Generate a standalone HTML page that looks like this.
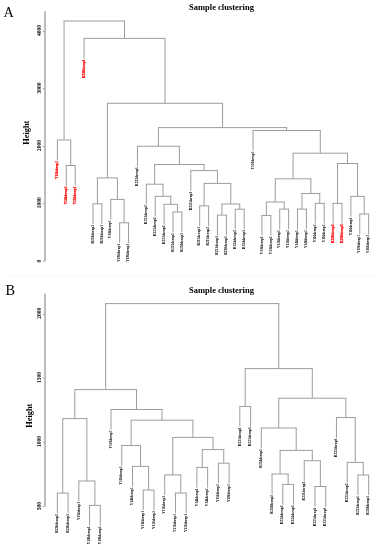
<!DOCTYPE html>
<html><head><meta charset="utf-8"><style>
html,body{margin:0;padding:0;background:#fff;}
body{width:376px;height:550px;overflow:hidden;position:relative;}
svg{position:absolute;left:0;top:0;will-change:transform;}
text{font-family:"Liberation Serif",serif;}
.t{font-weight:bold;}
</style></head><body>
<svg width="376" height="550" viewBox="0 0 376 550">
<rect x="8" y="275.3" width="368" height="1.4" fill="#fafafa"/>
<text x="3.6" y="16.6" font-size="14.3" fill="#000">A</text>
<text x="5.5" y="295" font-size="14.3" fill="#000">B</text>
<text class="t" x="189" y="10.1" font-size="8.5" fill="#000">Sample clustering</text>
<text class="t" x="189" y="292.9" font-size="8.5" fill="#000">Sample clustering</text>
<text class="t" transform="translate(29.4 132.7) rotate(-90)" text-anchor="middle" font-size="8.4" fill="#000">Height</text>
<text class="t" transform="translate(32.2 415.7) rotate(-90)" text-anchor="middle" font-size="8.4" fill="#000">Height</text>
<path d="M65.79 165.50H75.69M66.29 165.50V185.70M75.19 165.50V185.70M56.90 140.00H71.24M57.40 140.00V160.20M70.74 140.00V165.50M92.47 203.80H102.37M92.97 203.80V224.00M101.87 203.80V224.00M119.15 222.80H129.04M119.65 222.80V243.00M128.54 222.80V243.00M110.26 199.40H124.60M110.76 199.40V219.60M124.10 199.40V222.80M96.92 177.90H117.93M97.42 177.90V203.80M117.43 177.90V199.40M172.51 212.00H182.40M173.01 212.00V232.20M181.90 212.00V232.20M163.62 204.30H177.96M164.12 204.30V224.50M177.46 204.30V212.00M154.72 196.30H171.29M155.22 196.30V216.50M170.79 196.30V204.30M145.83 184.20H163.50M146.33 184.20V204.40M163.00 184.20V196.30M199.19 205.90H209.08M199.69 205.90V226.10M208.58 205.90V226.10M216.97 215.10H226.87M217.47 215.10V235.30M226.37 215.10V235.30M234.76 209.20H244.65M235.26 209.20V229.40M244.15 209.20V229.40M221.42 204.00H240.21M221.92 204.00V215.10M239.71 204.00V209.20M203.63 183.40H231.31M204.13 183.40V205.90M230.81 183.40V204.00M190.30 170.60H217.97M190.80 170.60V190.80M217.47 170.60V183.40M154.17 164.50H204.63M154.67 164.50V184.20M204.13 164.50V170.60M136.94 146.25H179.90M137.44 146.25V166.45M179.40 146.25V164.50M261.44 215.40H271.33M261.94 215.40V235.60M270.83 215.40V235.60M279.23 209.10H289.12M279.73 209.10V229.30M288.62 209.10V229.30M265.89 202.00H284.67M266.39 202.00V215.40M284.17 202.00V209.10M297.01 209.10H306.90M297.51 209.10V229.30M306.40 209.10V229.30M314.80 203.40H324.69M315.30 203.40V223.60M324.19 203.40V223.60M301.46 193.50H320.24M301.96 193.50V209.10M319.74 193.50V203.40M274.78 178.80H311.35M275.28 178.80V202.00M310.85 178.80V193.50M332.58 203.40H342.48M333.08 203.40V223.60M341.98 203.40V223.60M359.26 214.00H369.15M359.76 214.00V234.20M368.65 214.00V234.20M350.37 196.40H364.71M350.87 196.40V216.60M364.21 196.40V214.00M337.03 163.50H358.04M337.53 163.50V203.40M357.54 163.50V196.40M292.56 153.20H348.03M293.06 153.20V178.80M347.53 153.20V163.50M252.55 130.50H320.80M253.05 130.50V150.70M320.30 130.50V153.20M157.92 127.60H287.17M158.42 127.60V146.25M286.67 127.60V130.50M106.92 103.30H223.05M107.42 103.30V177.90M222.55 103.30V127.60M83.58 38.40H165.48M84.08 38.40V58.60M164.98 38.40V103.30M63.57 21.00H125.03M64.07 21.00V140.00M124.53 21.00V38.40" stroke="#9d9d9d" stroke-width="1" fill="none"/>
<text x="0" y="0" transform="translate(57.10 161.10) rotate(-90)" text-anchor="end" dominant-baseline="central" font-weight="bold" textLength="17.8" lengthAdjust="spacingAndGlyphs" fill="#ff0000" stroke="#ff0000" stroke-width="0.18" font-size="3.8">Y156dcrop2</text>
<text x="0" y="0" transform="translate(65.99 186.60) rotate(-90)" text-anchor="end" dominant-baseline="central" font-weight="bold" textLength="17.8" lengthAdjust="spacingAndGlyphs" fill="#ff0000" stroke="#ff0000" stroke-width="0.18" font-size="3.8">Y146dcrop3</text>
<text x="0" y="0" transform="translate(74.89 186.60) rotate(-90)" text-anchor="end" dominant-baseline="central" font-weight="bold" textLength="17.8" lengthAdjust="spacingAndGlyphs" fill="#ff0000" stroke="#ff0000" stroke-width="0.18" font-size="3.8">Y156dcrop1</text>
<text x="0" y="0" transform="translate(83.78 59.50) rotate(-90)" text-anchor="end" dominant-baseline="central" font-weight="bold" textLength="18.6" lengthAdjust="spacingAndGlyphs" fill="#ff0000" stroke="#ff0000" stroke-width="0.18" font-size="3.8">R230dcrop1</text>
<text x="0" y="0" transform="translate(92.67 224.90) rotate(-90)" text-anchor="end" dominant-baseline="central" font-weight="bold" textLength="18.6" lengthAdjust="spacingAndGlyphs" fill="#000" font-size="3.8">R226dcrop2</text>
<text x="0" y="0" transform="translate(101.57 224.90) rotate(-90)" text-anchor="end" dominant-baseline="central" font-weight="bold" textLength="18.6" lengthAdjust="spacingAndGlyphs" fill="#000" font-size="3.8">R226dcrop3</text>
<text x="0" y="0" transform="translate(110.46 220.50) rotate(-90)" text-anchor="end" dominant-baseline="central" font-weight="bold" textLength="17.8" lengthAdjust="spacingAndGlyphs" fill="#000" font-size="3.8">Y156dcrop3</text>
<text x="0" y="0" transform="translate(119.35 243.90) rotate(-90)" text-anchor="end" dominant-baseline="central" font-weight="bold" textLength="17.8" lengthAdjust="spacingAndGlyphs" fill="#000" font-size="3.8">Y106dcrop1</text>
<text x="0" y="0" transform="translate(128.24 243.90) rotate(-90)" text-anchor="end" dominant-baseline="central" font-weight="bold" textLength="17.8" lengthAdjust="spacingAndGlyphs" fill="#000" font-size="3.8">Y106dcrop2</text>
<text x="0" y="0" transform="translate(137.14 167.35) rotate(-90)" text-anchor="end" dominant-baseline="central" font-weight="bold" textLength="18.6" lengthAdjust="spacingAndGlyphs" fill="#000" font-size="3.8">R222dcrop3</text>
<text x="0" y="0" transform="translate(146.03 205.30) rotate(-90)" text-anchor="end" dominant-baseline="central" font-weight="bold" textLength="18.6" lengthAdjust="spacingAndGlyphs" fill="#000" font-size="3.8">R221dcrop2</text>
<text x="0" y="0" transform="translate(154.92 217.40) rotate(-90)" text-anchor="end" dominant-baseline="central" font-weight="bold" textLength="18.6" lengthAdjust="spacingAndGlyphs" fill="#000" font-size="3.8">R225dcrop2</text>
<text x="0" y="0" transform="translate(163.82 225.40) rotate(-90)" text-anchor="end" dominant-baseline="central" font-weight="bold" textLength="18.6" lengthAdjust="spacingAndGlyphs" fill="#000" font-size="3.8">R222dcrop2</text>
<text x="0" y="0" transform="translate(172.71 233.10) rotate(-90)" text-anchor="end" dominant-baseline="central" font-weight="bold" textLength="18.6" lengthAdjust="spacingAndGlyphs" fill="#000" font-size="3.8">R221dcrop1</text>
<text x="0" y="0" transform="translate(181.60 233.10) rotate(-90)" text-anchor="end" dominant-baseline="central" font-weight="bold" textLength="18.6" lengthAdjust="spacingAndGlyphs" fill="#000" font-size="3.8">R220dcrop3</text>
<text x="0" y="0" transform="translate(190.50 191.70) rotate(-90)" text-anchor="end" dominant-baseline="central" font-weight="bold" textLength="18.6" lengthAdjust="spacingAndGlyphs" fill="#000" font-size="3.8">R222dcrop1</text>
<text x="0" y="0" transform="translate(199.39 227.00) rotate(-90)" text-anchor="end" dominant-baseline="central" font-weight="bold" textLength="18.6" lengthAdjust="spacingAndGlyphs" fill="#000" font-size="3.8">R215dcrop1</text>
<text x="0" y="0" transform="translate(208.28 227.00) rotate(-90)" text-anchor="end" dominant-baseline="central" font-weight="bold" textLength="18.6" lengthAdjust="spacingAndGlyphs" fill="#000" font-size="3.8">R215dcrop2</text>
<text x="0" y="0" transform="translate(217.17 236.20) rotate(-90)" text-anchor="end" dominant-baseline="central" font-weight="bold" textLength="18.6" lengthAdjust="spacingAndGlyphs" fill="#000" font-size="3.8">R221dcrop3</text>
<text x="0" y="0" transform="translate(226.07 236.20) rotate(-90)" text-anchor="end" dominant-baseline="central" font-weight="bold" textLength="18.6" lengthAdjust="spacingAndGlyphs" fill="#000" font-size="3.8">R220dcrop1</text>
<text x="0" y="0" transform="translate(234.96 230.30) rotate(-90)" text-anchor="end" dominant-baseline="central" font-weight="bold" textLength="18.6" lengthAdjust="spacingAndGlyphs" fill="#000" font-size="3.8">R224dcrop2</text>
<text x="0" y="0" transform="translate(243.85 230.30) rotate(-90)" text-anchor="end" dominant-baseline="central" font-weight="bold" textLength="18.6" lengthAdjust="spacingAndGlyphs" fill="#000" font-size="3.8">R224dcrop3</text>
<text x="0" y="0" transform="translate(252.75 151.60) rotate(-90)" text-anchor="end" dominant-baseline="central" font-weight="bold" textLength="17.8" lengthAdjust="spacingAndGlyphs" fill="#000" font-size="3.8">Y120dcrop3</text>
<text x="0" y="0" transform="translate(261.64 236.50) rotate(-90)" text-anchor="end" dominant-baseline="central" font-weight="bold" textLength="17.8" lengthAdjust="spacingAndGlyphs" fill="#000" font-size="3.8">Y136dcrop1</text>
<text x="0" y="0" transform="translate(270.53 236.50) rotate(-90)" text-anchor="end" dominant-baseline="central" font-weight="bold" textLength="17.8" lengthAdjust="spacingAndGlyphs" fill="#000" font-size="3.8">Y136dcrop2</text>
<text x="0" y="0" transform="translate(279.43 230.20) rotate(-90)" text-anchor="end" dominant-baseline="central" font-weight="bold" textLength="17.8" lengthAdjust="spacingAndGlyphs" fill="#000" font-size="3.8">Y126dcrop1</text>
<text x="0" y="0" transform="translate(288.32 230.20) rotate(-90)" text-anchor="end" dominant-baseline="central" font-weight="bold" textLength="17.8" lengthAdjust="spacingAndGlyphs" fill="#000" font-size="3.8">Y126dcrop2</text>
<text x="0" y="0" transform="translate(297.21 230.20) rotate(-90)" text-anchor="end" dominant-baseline="central" font-weight="bold" textLength="17.8" lengthAdjust="spacingAndGlyphs" fill="#000" font-size="3.8">Y146dcrop1</text>
<text x="0" y="0" transform="translate(306.10 230.20) rotate(-90)" text-anchor="end" dominant-baseline="central" font-weight="bold" textLength="17.8" lengthAdjust="spacingAndGlyphs" fill="#000" font-size="3.8">Y146dcrop2</text>
<text x="0" y="0" transform="translate(315.00 224.50) rotate(-90)" text-anchor="end" dominant-baseline="central" font-weight="bold" textLength="17.8" lengthAdjust="spacingAndGlyphs" fill="#000" font-size="3.8">Y116dcrop3</text>
<text x="0" y="0" transform="translate(323.89 224.50) rotate(-90)" text-anchor="end" dominant-baseline="central" font-weight="bold" textLength="17.8" lengthAdjust="spacingAndGlyphs" fill="#000" font-size="3.8">Y116dcrop2</text>
<text x="0" y="0" transform="translate(332.78 224.50) rotate(-90)" text-anchor="end" dominant-baseline="central" font-weight="bold" textLength="18.6" lengthAdjust="spacingAndGlyphs" fill="#ff0000" stroke="#ff0000" stroke-width="0.18" font-size="3.8">R230dcrop2</text>
<text x="0" y="0" transform="translate(341.68 224.50) rotate(-90)" text-anchor="end" dominant-baseline="central" font-weight="bold" textLength="18.6" lengthAdjust="spacingAndGlyphs" fill="#ff0000" stroke="#ff0000" stroke-width="0.18" font-size="3.8">R230dcrop3</text>
<text x="0" y="0" transform="translate(350.57 217.50) rotate(-90)" text-anchor="end" dominant-baseline="central" font-weight="bold" textLength="17.8" lengthAdjust="spacingAndGlyphs" fill="#000" font-size="3.8">Y116dcrop1</text>
<text x="0" y="0" transform="translate(359.46 235.10) rotate(-90)" text-anchor="end" dominant-baseline="central" font-weight="bold" textLength="17.8" lengthAdjust="spacingAndGlyphs" fill="#000" font-size="3.8">Y106dcrop3</text>
<text x="0" y="0" transform="translate(368.35 235.10) rotate(-90)" text-anchor="end" dominant-baseline="central" font-weight="bold" textLength="17.8" lengthAdjust="spacingAndGlyphs" fill="#000" font-size="3.8">Y166dcrop1</text>
<path d="M56.85 493.10H68.59M57.35 493.10V513.30M68.09 493.10V513.30M89.06 505.40H100.79M89.56 505.40V525.60M100.29 505.40V525.60M78.32 481.00H95.42M78.82 481.00V501.20M94.92 481.00V505.40M62.22 418.60H87.37M62.72 418.60V493.10M86.87 418.60V481.00M142.73 490.00H154.47M143.23 490.00V510.20M153.97 490.00V510.20M132.00 466.40H149.10M132.50 466.40V486.60M148.60 466.40V490.00M121.26 445.50H141.05M121.76 445.50V465.70M140.55 445.50V466.40M174.94 493.00H186.67M175.44 493.00V513.20M186.17 493.00V513.20M164.20 474.90H181.30M164.70 474.90V495.10M180.80 474.90V493.00M196.41 467.40H208.14M196.91 467.40V487.60M207.64 467.40V487.60M217.87 463.20H229.61M218.37 463.20V483.40M229.11 463.20V483.40M201.77 449.60H224.24M202.27 449.60V467.40M223.74 449.60V463.20M172.25 437.40H213.51M172.75 437.40V474.90M213.01 437.40V449.60M130.65 420.20H193.38M131.15 420.20V445.50M192.88 420.20V437.40M110.53 409.50H162.52M111.03 409.50V429.70M162.02 409.50V420.20M74.29 389.60H137.02M74.79 389.60V418.60M136.52 389.60V409.50M239.34 406.40H251.08M239.84 406.40V426.60M250.58 406.40V426.60M282.29 484.40H294.02M282.79 484.40V504.60M293.52 484.40V504.60M271.55 474.00H288.65M272.05 474.00V494.20M288.15 474.00V484.40M314.49 486.50H326.23M314.99 486.50V506.70M325.73 486.50V506.70M303.75 460.70H320.86M304.25 460.70V480.90M320.36 460.70V486.50M279.60 450.40H312.81M280.10 450.40V474.00M312.31 450.40V460.70M260.81 428.00H296.70M261.31 428.00V448.20M296.20 428.00V450.40M357.43 475.00H369.17M357.93 475.00V495.20M368.67 475.00V495.20M346.69 462.40H363.80M347.19 462.40V482.60M363.30 462.40V475.00M335.96 417.50H355.75M336.46 417.50V437.70M355.25 417.50V462.40M278.26 398.20H346.35M278.76 398.20V428.00M345.85 398.20V417.50M244.71 368.60H312.81M245.21 368.60V406.40M312.31 368.60V398.20M105.16 303.60H279.26M105.66 303.60V389.60M278.76 303.60V368.60" stroke="#9d9d9d" stroke-width="1" fill="none"/>
<text x="0" y="0" transform="translate(57.05 514.20) rotate(-90)" text-anchor="end" dominant-baseline="central" font-weight="bold" textLength="18.6" lengthAdjust="spacingAndGlyphs" fill="#000" font-size="3.8">R226dcrop2</text>
<text x="0" y="0" transform="translate(67.79 514.20) rotate(-90)" text-anchor="end" dominant-baseline="central" font-weight="bold" textLength="18.6" lengthAdjust="spacingAndGlyphs" fill="#000" font-size="3.8">R226dcrop3</text>
<text x="0" y="0" transform="translate(78.52 502.10) rotate(-90)" text-anchor="end" dominant-baseline="central" font-weight="bold" textLength="17.8" lengthAdjust="spacingAndGlyphs" fill="#000" font-size="3.8">Y156dcrop1</text>
<text x="0" y="0" transform="translate(89.26 526.50) rotate(-90)" text-anchor="end" dominant-baseline="central" font-weight="bold" textLength="17.8" lengthAdjust="spacingAndGlyphs" fill="#000" font-size="3.8">Y106dcrop1</text>
<text x="0" y="0" transform="translate(99.99 526.50) rotate(-90)" text-anchor="end" dominant-baseline="central" font-weight="bold" textLength="17.8" lengthAdjust="spacingAndGlyphs" fill="#000" font-size="3.8">Y106dcrop2</text>
<text x="0" y="0" transform="translate(110.73 430.60) rotate(-90)" text-anchor="end" dominant-baseline="central" font-weight="bold" textLength="17.8" lengthAdjust="spacingAndGlyphs" fill="#000" font-size="3.8">Y120dcrop3</text>
<text x="0" y="0" transform="translate(121.46 466.60) rotate(-90)" text-anchor="end" dominant-baseline="central" font-weight="bold" textLength="17.8" lengthAdjust="spacingAndGlyphs" fill="#000" font-size="3.8">Y116dcrop3</text>
<text x="0" y="0" transform="translate(132.19 487.50) rotate(-90)" text-anchor="end" dominant-baseline="central" font-weight="bold" textLength="17.8" lengthAdjust="spacingAndGlyphs" fill="#000" font-size="3.8">Y146dcrop3</text>
<text x="0" y="0" transform="translate(142.93 511.10) rotate(-90)" text-anchor="end" dominant-baseline="central" font-weight="bold" textLength="17.8" lengthAdjust="spacingAndGlyphs" fill="#000" font-size="3.8">Y116dcrop1</text>
<text x="0" y="0" transform="translate(153.66 511.10) rotate(-90)" text-anchor="end" dominant-baseline="central" font-weight="bold" textLength="17.8" lengthAdjust="spacingAndGlyphs" fill="#000" font-size="3.8">Y126dcrop2</text>
<text x="0" y="0" transform="translate(164.40 496.00) rotate(-90)" text-anchor="end" dominant-baseline="central" font-weight="bold" textLength="17.8" lengthAdjust="spacingAndGlyphs" fill="#000" font-size="3.8">Y136dcrop1</text>
<text x="0" y="0" transform="translate(175.13 514.10) rotate(-90)" text-anchor="end" dominant-baseline="central" font-weight="bold" textLength="17.8" lengthAdjust="spacingAndGlyphs" fill="#000" font-size="3.8">Y136dcrop2</text>
<text x="0" y="0" transform="translate(185.87 514.10) rotate(-90)" text-anchor="end" dominant-baseline="central" font-weight="bold" textLength="17.8" lengthAdjust="spacingAndGlyphs" fill="#000" font-size="3.8">Y126dcrop1</text>
<text x="0" y="0" transform="translate(196.60 488.50) rotate(-90)" text-anchor="end" dominant-baseline="central" font-weight="bold" textLength="17.8" lengthAdjust="spacingAndGlyphs" fill="#000" font-size="3.8">Y146dcrop1</text>
<text x="0" y="0" transform="translate(207.34 488.50) rotate(-90)" text-anchor="end" dominant-baseline="central" font-weight="bold" textLength="17.8" lengthAdjust="spacingAndGlyphs" fill="#000" font-size="3.8">Y146dcrop2</text>
<text x="0" y="0" transform="translate(218.07 484.30) rotate(-90)" text-anchor="end" dominant-baseline="central" font-weight="bold" textLength="17.8" lengthAdjust="spacingAndGlyphs" fill="#000" font-size="3.8">Y116dcrop2</text>
<text x="0" y="0" transform="translate(228.81 484.30) rotate(-90)" text-anchor="end" dominant-baseline="central" font-weight="bold" textLength="17.8" lengthAdjust="spacingAndGlyphs" fill="#000" font-size="3.8">Y106dcrop3</text>
<text x="0" y="0" transform="translate(239.54 427.50) rotate(-90)" text-anchor="end" dominant-baseline="central" font-weight="bold" textLength="18.6" lengthAdjust="spacingAndGlyphs" fill="#000" font-size="3.8">R223dcrop1</text>
<text x="0" y="0" transform="translate(250.28 427.50) rotate(-90)" text-anchor="end" dominant-baseline="central" font-weight="bold" textLength="18.6" lengthAdjust="spacingAndGlyphs" fill="#000" font-size="3.8">R223dcrop3</text>
<text x="0" y="0" transform="translate(261.01 449.10) rotate(-90)" text-anchor="end" dominant-baseline="central" font-weight="bold" textLength="18.6" lengthAdjust="spacingAndGlyphs" fill="#000" font-size="3.8">R224dcrop1</text>
<text x="0" y="0" transform="translate(271.75 495.10) rotate(-90)" text-anchor="end" dominant-baseline="central" font-weight="bold" textLength="18.6" lengthAdjust="spacingAndGlyphs" fill="#000" font-size="3.8">R220dcrop2</text>
<text x="0" y="0" transform="translate(282.49 505.50) rotate(-90)" text-anchor="end" dominant-baseline="central" font-weight="bold" textLength="18.6" lengthAdjust="spacingAndGlyphs" fill="#000" font-size="3.8">R224dcrop2</text>
<text x="0" y="0" transform="translate(293.22 505.50) rotate(-90)" text-anchor="end" dominant-baseline="central" font-weight="bold" textLength="18.6" lengthAdjust="spacingAndGlyphs" fill="#000" font-size="3.8">R224dcrop3</text>
<text x="0" y="0" transform="translate(303.95 481.80) rotate(-90)" text-anchor="end" dominant-baseline="central" font-weight="bold" textLength="18.6" lengthAdjust="spacingAndGlyphs" fill="#000" font-size="3.8">R221dcrop2</text>
<text x="0" y="0" transform="translate(314.69 507.60) rotate(-90)" text-anchor="end" dominant-baseline="central" font-weight="bold" textLength="18.6" lengthAdjust="spacingAndGlyphs" fill="#000" font-size="3.8">R225dcrop1</text>
<text x="0" y="0" transform="translate(325.43 507.60) rotate(-90)" text-anchor="end" dominant-baseline="central" font-weight="bold" textLength="18.6" lengthAdjust="spacingAndGlyphs" fill="#000" font-size="3.8">R225dcrop3</text>
<text x="0" y="0" transform="translate(336.16 438.60) rotate(-90)" text-anchor="end" dominant-baseline="central" font-weight="bold" textLength="18.6" lengthAdjust="spacingAndGlyphs" fill="#000" font-size="3.8">R222dcrop3</text>
<text x="0" y="0" transform="translate(346.89 483.50) rotate(-90)" text-anchor="end" dominant-baseline="central" font-weight="bold" textLength="18.6" lengthAdjust="spacingAndGlyphs" fill="#000" font-size="3.8">R222dcrop2</text>
<text x="0" y="0" transform="translate(357.63 496.10) rotate(-90)" text-anchor="end" dominant-baseline="central" font-weight="bold" textLength="18.6" lengthAdjust="spacingAndGlyphs" fill="#000" font-size="3.8">R221dcrop1</text>
<text x="0" y="0" transform="translate(368.37 496.10) rotate(-90)" text-anchor="end" dominant-baseline="central" font-weight="bold" textLength="18.6" lengthAdjust="spacingAndGlyphs" fill="#000" font-size="3.8">R220dcrop3</text>
<path d="M45.00 11.30V261.20" stroke="#bdbdbd" stroke-width="2" fill="none"/>
<path d="M43.00 31.30H44.20M43.00 88.80H44.20M43.00 146.30H44.20M43.00 203.60H44.20M43.00 261.20H44.20" stroke="#8a8a8a" stroke-width="1" fill="none"/>
<text transform="translate(40.90 30.40) rotate(-90)" text-anchor="middle" font-weight="bold" font-size="5.5" fill="#000">4000</text>
<text transform="translate(40.90 87.90) rotate(-90)" text-anchor="middle" font-weight="bold" font-size="5.5" fill="#000">3000</text>
<text transform="translate(40.90 145.40) rotate(-90)" text-anchor="middle" font-weight="bold" font-size="5.5" fill="#000">2000</text>
<text transform="translate(40.90 202.70) rotate(-90)" text-anchor="middle" font-weight="bold" font-size="5.5" fill="#000">1000</text>
<text transform="translate(40.90 261.20) rotate(-90)" text-anchor="middle" font-weight="bold" font-size="5.5" fill="#000">0</text>
<path d="M45.00 293.80V506.40" stroke="#bdbdbd" stroke-width="2" fill="none"/>
<path d="M43.00 314.20H44.20M43.00 378.30H44.20M43.00 442.30H44.20M43.00 506.40H44.20" stroke="#8a8a8a" stroke-width="1" fill="none"/>
<text transform="translate(40.90 313.30) rotate(-90)" text-anchor="middle" font-weight="bold" font-size="5.5" fill="#000">2000</text>
<text transform="translate(40.90 377.40) rotate(-90)" text-anchor="middle" font-weight="bold" font-size="5.5" fill="#000">1500</text>
<text transform="translate(40.90 441.40) rotate(-90)" text-anchor="middle" font-weight="bold" font-size="5.5" fill="#000">1000</text>
<text transform="translate(40.90 506.00) rotate(-90)" text-anchor="middle" font-weight="bold" font-size="5.5" fill="#000">500</text>
</svg>
</body></html>
